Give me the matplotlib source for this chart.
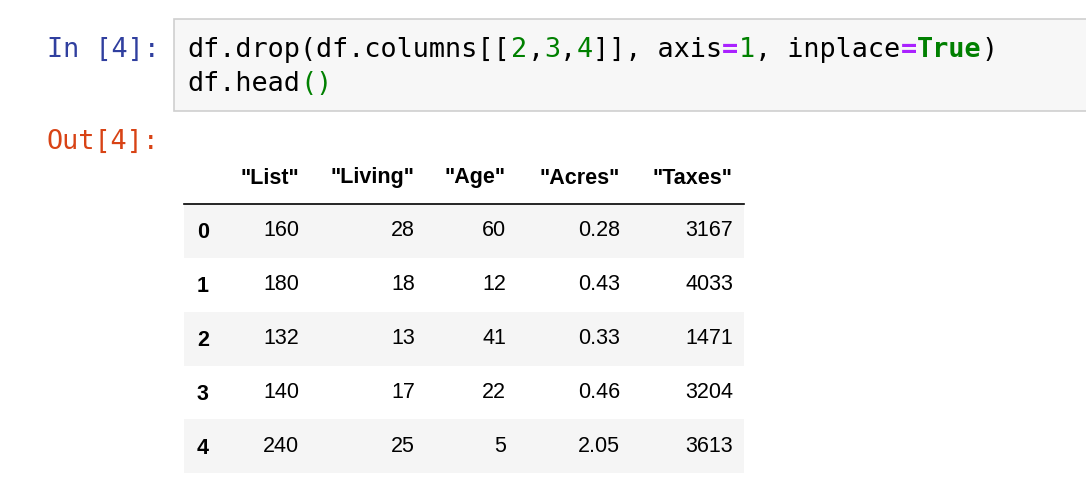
import matplotlib.pyplot as plt
from matplotlib.patches import Rectangle

# table data
columns = ['"List"', '"Living"', '"Age"', '"Acres"', '"Taxes"']
index = ['0', '1', '2', '3', '4']
list_vals = [160, 180, 132, 140, 240]
living_vals = [28, 18, 13, 17, 25]
age_vals = [60, 12, 41, 22, 5]
acres_vals = ['0.28', '0.43', '0.33', '0.46', '2.05']
taxes_vals = [3167, 4033, 1471, 3204, 3613]

# code lines as (text, colour, bold) segments
line1 = [('df.drop(df.columns[[', '#000000', False), ('2', '#008000', False), (',', '#000000', False),
         ('3', '#008000', False), (',', '#000000', False), ('4', '#008000', False),
         (']], axis', '#000000', False), ('=', '#AA22FF', True), ('1', '#008000', False),
         (', inplace', '#000000', False), ('=', '#AA22FF', True), ('True', '#008000', True),
         (')', '#000000', False)]
line2 = [('df.head', '#000000', False), ('()', '#008000', False)]

fig = plt.figure(figsize=(10.86, 5), dpi=100)
ax = fig.add_axes([0, 0, 1, 1])
ax.set_xlim(0, 1086)
ax.set_ylim(500, 0)
ax.axis('off')

mono = 'DejaVu Sans Mono'
fs_code = 19.4
charw = 0.602 * fs_code * 100 / 72

ax.text(47, 50, 'In [4]:', family=mono, fontsize=fs_code, color='#303F9F', va='center')
ax.text(47, 142, 'Out[4]:', family=mono, fontsize=fs_code, color='#D84315', va='center')

ax.add_patch(Rectangle((173.5, 18.5), 920, 92, facecolor='#f7f7f7', edgecolor='#cfcfcf', lw=1.2))

for segs, y in [(line1, 50), (line2, 84)]:
    pos = 0
    for txt, col, bold in segs:
        ax.text(187 + pos * charw, y, txt, family=mono, fontsize=fs_code, color=col,
                fontweight='bold' if bold else 'normal', va='center')
        pos += len(txt)

# table
sans = 'Liberation Sans'
fs_tab = 15.5
col_right = [299, 415, 506, 620, 733]
row_y = [231, 285, 339, 393, 446]
row_h = 54

for i, y in enumerate(row_y):
    if i % 2 == 0:
        ax.add_patch(Rectangle((184, y - row_h / 2), 560, row_h, facecolor='#f5f5f5', edgecolor='none'))

ax.plot([184, 744], [204, 204], color='#000000', lw=1.2)

for c, x in zip(columns, col_right):
    ax.text(x, 178, c, family=sans, fontsize=fs_tab, fontweight='bold', ha='right', va='center')

rows = list(zip(list_vals, living_vals, age_vals, acres_vals, taxes_vals))
for idx, y, vals in zip(index, row_y, rows):
    ax.text(197, y + 2, idx, family=sans, fontsize=fs_tab, fontweight='bold', ha='left', va='center')
    for v, x in zip(vals, col_right):
        ax.text(x, y, str(v), family=sans, fontsize=fs_tab, ha='right', va='center')

fig.savefig('out.png', dpi=100, facecolor='white')
